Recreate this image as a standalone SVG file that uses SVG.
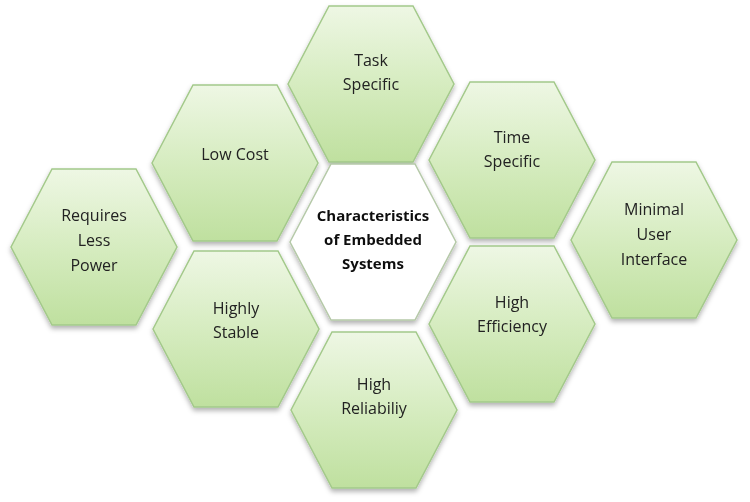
<svg xmlns="http://www.w3.org/2000/svg" width="750" height="502" viewBox="0 0 750 502">
<style>
.h{fill:url(#g);stroke:#a3c98a;stroke-width:1.5}
.c{fill:#fff;stroke:#b5c9a8;stroke-width:1.5}
text{font-family:"Open Sans","Liberation Sans",sans-serif;font-size:16px;fill:#222;text-anchor:middle}
.b{font-weight:bold;font-size:15px;fill:#111}
</style>
<defs>
<linearGradient id="g" x1="0" y1="0" x2="0" y2="1">
<stop offset="0" stop-color="#eef7e4"/><stop offset="0.5" stop-color="#d6ecc0"/><stop offset="1" stop-color="#bfe09f"/>
</linearGradient>
<filter id="s" x="-10%" y="-10%" width="120%" height="130%"><feDropShadow dx="0" dy="3" stdDeviation="2.5" flood-color="#000" flood-opacity="0.3"/></filter>
<polygon id="hx" points="-83,0 -42,-78 42,-78 83,0 42,78 -42,78"/>
</defs>
<rect width="750" height="502" fill="#fff"/>
<g id="connectors"/>
<g id="task" transform="translate(371,84)" filter="url(#s)"><use href="#hx" class="h"/><text y="-18">Task</text><text y="6">Specific</text></g>
<g id="lowcost" transform="translate(235,163)" filter="url(#s)"><use href="#hx" class="h"/><text y="-3">Low Cost</text></g>
<g id="time" transform="translate(512,160)" filter="url(#s)"><use href="#hx" class="h"/><text y="-17">Time</text><text y="7">Specific</text></g>
<g id="power" transform="translate(94,247)" filter="url(#s)"><use href="#hx" class="h"/><text y="-26">Requires</text><text y="-1">Less</text><text y="24">Power</text></g>
<g id="center" transform="translate(373,242)" filter="url(#s)"><use href="#hx" class="c"/><text class="b" y="-21">Characteristics</text><text class="b" y="3">of Embedded</text><text class="b" y="27">Systems</text></g>
<g id="minimal" transform="translate(654,240)" filter="url(#s)"><use href="#hx" class="h"/><text y="-25">Minimal</text><text y="0">User</text><text y="25">Interface</text></g>
<g id="stable" transform="translate(236,329)" filter="url(#s)"><use href="#hx" class="h"/><text y="-15">Highly</text><text y="9">Stable</text></g>
<g id="efficiency" transform="translate(512,324)" filter="url(#s)"><use href="#hx" class="h"/><text y="-16">High</text><text y="8">Efficiency</text></g>
<g id="reliability" transform="translate(374,410)" filter="url(#s)"><use href="#hx" class="h"/><text y="-20">High</text><text y="4">Reliabiliy</text></g>
</svg>
